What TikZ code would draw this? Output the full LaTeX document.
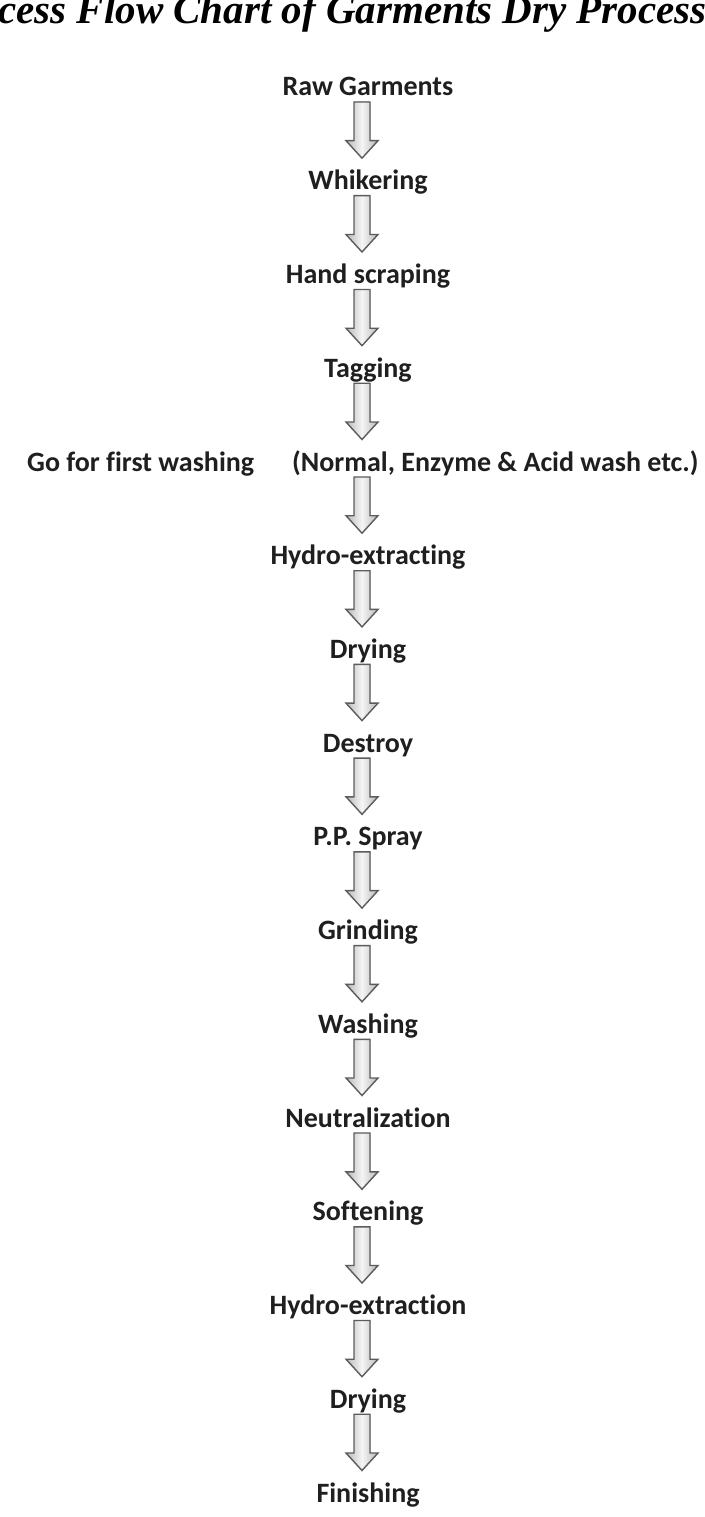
\documentclass[tikz,border=0pt]{standalone}
\usepackage{fontspec}
\setmainfont{Carlito}[Ligatures=NoCommon]
\newfontfamily\titlefont{Liberation Serif}
\usetikzlibrary{calc}
\definecolor{arrline}{gray}{0.36}
\tikzset{
  lbl/.style={font=\fontsize{28}{30}\selectfont\bfseries, text=black!88, inner sep=0pt, anchor=base},
  blockarrow/.style={draw=arrline, line width=1.4pt, line join=miter,
     left color=gray!55, right color=gray!55, middle color=gray!8},
}
\newcommand\colx{362pt}
\newcommand\garrow[2]{%
  \filldraw[blockarrow] let \p1=(#1.base), \p2=(#2.base) in
    ({\colx-8pt},{\y1-6pt}) -- ({\colx+8pt},{\y1-6pt})
    -- ({\colx+8pt},{\y2+49pt}) -- ({\colx+16pt},{\y2+49pt})
    -- (\colx,{\y2+31.5pt}) -- ({\colx-16pt},{\y2+49pt})
    -- ({\colx-8pt},{\y2+49pt}) -- cycle;}
\begin{document}
\begin{tikzpicture}[x=1pt,y=1pt]
\useasboundingbox (0,0) rectangle (704,-1517);
\fill[white] (0,0) rectangle (704,-1517);
\node[inner sep=0pt, anchor=base west, font=\titlefont\fontsize{41}{43}\selectfont\bfseries\itshape] (title) at (-2,-24) {cess Flow Chart of Garments Dry Process};
\node[lbl] (n0) at (368,-96) {Raw Garments};
\node[lbl] (n1) at (368,-189.7) {Whikering};
\node[lbl] (n2) at (368,-283.5) {Hand scraping};
\node[lbl] (n3) at (368,-377.2) {Tagging};
\node[lbl, anchor=base west] (n4a) at (27,-471) {Go for first washing};
\node[lbl, anchor=base west] (n4) at (292,-471) {(Normal, Enzyme \& Acid wash etc.)};
\node[lbl] (n5) at (368,-564.7) {Hydro-extracting};
\node[lbl] (n6) at (368,-658.4) {Drying};
\node[lbl] (n7) at (368,-752.1) {Destroy};
\node[lbl] (n8) at (368,-845.8) {P.P. Spray};
\node[lbl] (n9) at (368,-939.6) {Grinding};
\node[lbl] (n10) at (368,-1033.3) {Washing};
\node[lbl] (n11) at (368,-1127) {Neutralization};
\node[lbl] (n12) at (368,-1220.8) {Softening};
\node[lbl] (n13) at (368,-1314.5) {Hydro-extraction};
\node[lbl] (n14) at (368,-1408.2) {Drying};
\node[lbl] (n15) at (368,-1502) {Finishing};
\garrow{n0}{n1}
\garrow{n1}{n2}
\garrow{n2}{n3}
\garrow{n3}{n4}
\garrow{n4}{n5}
\garrow{n5}{n6}
\garrow{n6}{n7}
\garrow{n7}{n8}
\garrow{n8}{n9}
\garrow{n9}{n10}
\garrow{n10}{n11}
\garrow{n11}{n12}
\garrow{n12}{n13}
\garrow{n13}{n14}
\garrow{n14}{n15}
\end{tikzpicture}
\end{document}
